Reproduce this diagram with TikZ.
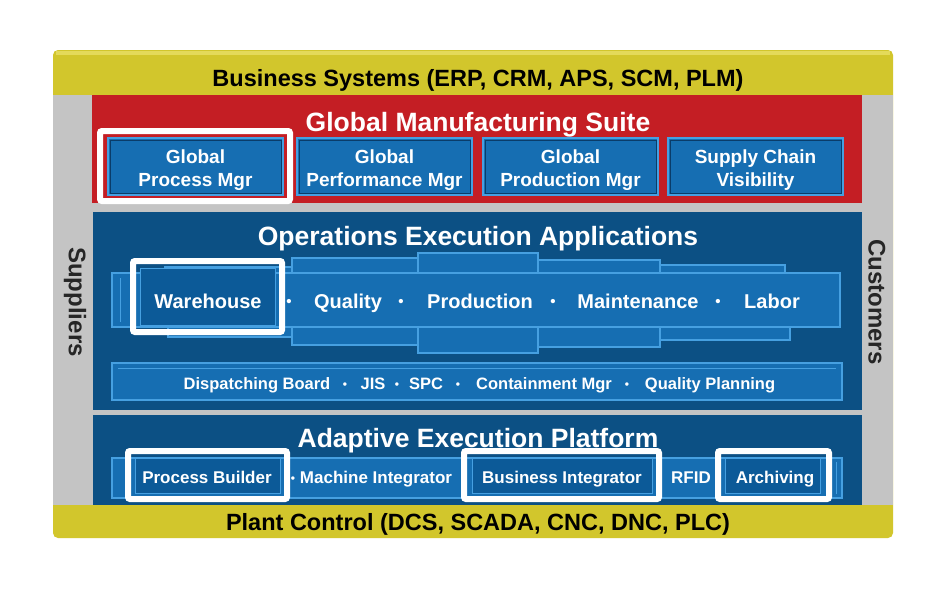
\documentclass[tikz,border=0pt]{standalone}
\usepackage{fontspec}
\setmainfont{Liberation Sans}
\definecolor{ylw}{RGB}{210,198,44}
\definecolor{ylwlt}{RGB}{228,218,90}
\definecolor{gry}{RGB}{196,196,196}
\definecolor{redp}{RGB}{196,30,36}
\definecolor{navy}{RGB}{12,80,132}
\definecolor{barb}{RGB}{22,110,178}
\definecolor{barl}{RGB}{70,160,225}
\definecolor{boxd}{RGB}{12,90,152}
\definecolor{boxdk}{RGB}{10,60,105}
\begin{document}
\begin{tikzpicture}[x=1pt,y=-1pt,
  ttl/.style={text=white, font=\fontsize{26.5}{30}\selectfont\bfseries, inner sep=0, anchor=base},
  band/.style={text=black, font=\fontsize{23.5}{27}\selectfont\bfseries, inner sep=0, anchor=base},
  gtxt/.style={text=white, font=\fontsize{19}{23}\selectfont\bfseries, inner sep=0, anchor=base},
  gbox/.style={fill=barb, draw=barl, line width=2pt, inner sep=0},
  item/.style={text=white, font=\fontsize{20}{22}\selectfont\bfseries, inner sep=0, anchor=base},
  smallitem/.style={text=white, font=\fontsize{17}{19}\selectfont\bfseries, inner sep=0, anchor=base},
  dsp/.style={text=white, font=\fontsize{16.5}{19}\selectfont\bfseries, inner sep=0, anchor=base},
  sepdot/.style={text=white, font=\fontsize{15}{16}\selectfont\bfseries, inner sep=0, anchor=base},
  sepdots/.style={text=white, font=\fontsize{12}{14}\selectfont\bfseries, inner sep=0, anchor=base},
  side/.style={text=black!85, font=\fontsize{24}{28}\selectfont\bfseries, rotate=-90, inner sep=0},
  bar/.style={fill=barb, draw=barl, line width=1.5pt},
  hilite/.style={draw=white, line width=6pt, rounded corners=2pt},
  inbox/.style={fill=boxd, draw=barl, line width=1pt}
]
\useasboundingbox (0,0) rectangle (940,590);
\fill[white] (0,0) rectangle (940,590);

% outer frame
\fill[ylw, rounded corners=5pt] (53,50) rectangle (893,538);
\fill[ylwlt] (56,51) rectangle (890,55);
\fill[gry] (53,95) rectangle (893,505);

% panels
\fill[redp] (92,95) rectangle (862,203);
\fill[navy] (93,212) rectangle (862,410);
\fill[navy] (93,415) rectangle (862,505);

% band texts
\node[band] (bs) at (478,86) {Business Systems (ERP, CRM, APS, SCM, PLM)};
\node[band] (pc) at (478,530) {Plant Control (DCS, SCADA, CNC, DNC, PLC)};
\node[side] (sup) at (75,302) {Suppliers};
\node[side] (cus) at (877,302) {Customers};

% Global Manufacturing Suite
\node[ttl] (gms) at (478,131) {Global Manufacturing Suite};
\node[gbox, minimum width=175, minimum height=57] (gpm) at (195.5,166.5) {};
\node[gbox, minimum width=175, minimum height=57] (gpf) at (384.5,166.5) {};
\node[gbox, minimum width=175, minimum height=57] (gpr) at (570.5,166.5) {};
\node[gbox, minimum width=175, minimum height=57] (scv) at (755.5,166.5) {};
\foreach \b in {gpm,gpf,gpr,scv}{
  \draw[boxdk, line width=1pt] ([shift={(3,3)}]\b.north west) rectangle ([shift={(-3,-3)}]\b.south east);
}
\node[gtxt] (gpma) at (195.5,163) {Global};
\node[gtxt] (gpmb) at (195.5,186) {Process Mgr};
\node[gtxt] (gpfa) at (384.5,163) {Global};
\node[gtxt] (gpfb) at (384.5,186) {Performance Mgr};
\node[gtxt] (gpra) at (570.5,163) {Global};
\node[gtxt] (gprb) at (570.5,186) {Production Mgr};
\node[gtxt] (scva) at (755.5,163) {Supply Chain};
\node[gtxt] (scvb) at (755.5,186) {Visibility};
\draw[hilite] (100,131) rectangle (290,201);

% Operations Execution Applications
\node[ttl] (oea) at (478,245) {Operations Execution Applications};
\draw[bar] (165,267) rectangle (292,275);
\draw[bar] (292,258) rectangle (418,275);
\draw[bar] (418,253) rectangle (538,275);
\draw[bar] (538,260) rectangle (660,275);
\draw[bar] (660,265) rectangle (785,275);
\draw[bar] (168,325) rectangle (292,337);
\draw[bar] (292,325) rectangle (418,345);
\draw[bar] (418,325) rectangle (538,353);
\draw[bar] (538,325) rectangle (660,347);
\draw[bar] (660,325) rectangle (790,340);
\draw[bar] (112,273) rectangle (840,327);
\draw[barl, line width=1pt] (120,278) -- (120,322);
\draw[inbox] (140,268) rectangle (275,325);
\draw[hilite] (133,261) rectangle (282,332);
\node[item] (wh) at (208,308) {Warehouse};
\node[sepdot] (d1) at (289,306) {•};
\node[item] (ql) at (348,308) {Quality};
\node[sepdot] (d2) at (401,306) {•};
\node[item] (pr) at (480,308) {Production};
\node[sepdot] (d3) at (553,306) {•};
\node[item] (mt) at (638,308) {Maintenance};
\node[sepdot] (d4) at (718,306) {•};
\node[item] (lb) at (772,308) {Labor};

\draw[bar] (112,363) rectangle (842,400);
\draw[barl, line width=1pt] (118,368) -- (836,368);
\node[dsp] (db) at (257,389) {Dispatching Board};
\node[sepdots] (e1) at (345,388) {•};
\node[dsp] (jis) at (373,389) {JIS};
\node[sepdots] (e2) at (397,388) {•};
\node[dsp] (spc) at (426,389) {SPC};
\node[sepdots] (e3) at (458,388) {•};
\node[dsp] (cm) at (544,389) {Containment Mgr};
\node[sepdots] (e4) at (627,388) {•};
\node[dsp] (qp) at (710,389) {Quality Planning};

% Adaptive Execution Platform
\node[ttl] (aep) at (478,447) {Adaptive Execution Platform};
\draw[bar] (112,458) rectangle (842,498);
\draw[barl, line width=1pt] (836,462) -- (836,494);
\draw[inbox] (135,458) rectangle (280,493);
\draw[inbox] (472,458) rectangle (652,493);
\draw[inbox] (725,458) rectangle (820,493);
\node[sepdots] (f1) at (293,482) {•};
\draw[hilite] (128,451) rectangle (287,499);
\draw[hilite] (464,451) rectangle (659,499);
\draw[hilite] (718,451) rectangle (829,499);
\node[smallitem] (pb) at (207,483) {Process Builder};
\node[smallitem] (mi) at (376,483) {Machine Integrator};
\node[smallitem] (bi) at (562,483) {Business Integrator};
\node[smallitem] (rf) at (691,483) {RFID};
\node[smallitem] (ar) at (775,483) {Archiving};
\end{tikzpicture}
\end{document}
